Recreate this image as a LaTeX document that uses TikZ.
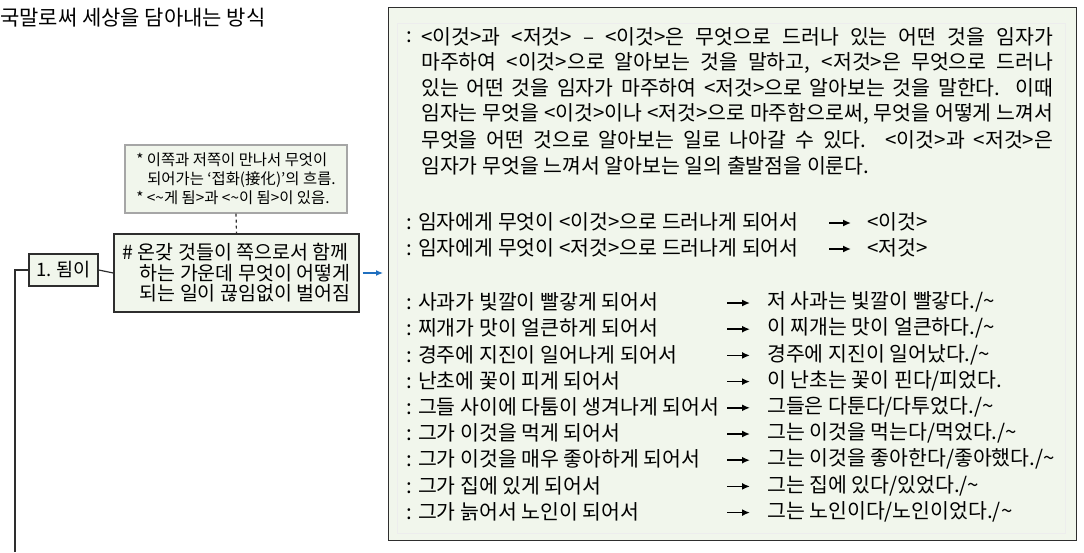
\documentclass[tikz,border=0pt]{standalone}
\usepackage{fontspec}
\setmainfont{Noto Sans CJK KR}
\usetikzlibrary{arrows.meta}
\definecolor{boxfill}{HTML}{F1F6EC}
\definecolor{boxline}{HTML}{2E2E2E}
\definecolor{noteline}{HTML}{A6A6A6}
\definecolor{arrowblue}{HTML}{1F6FBF}
\newcommand{\bodyfont}{\fontsize{20.5}{25.8}\selectfont}

\begin{document}
\begin{tikzpicture}[x=1pt, y=-1pt,
    box/.style={draw=boxline, fill=boxfill, line width=1.4pt, inner sep=0pt},
    notebox/.style={draw=noteline, fill=boxfill, line width=1.2pt, inner sep=0pt},
    link/.style={draw=boxline, line width=1.2pt},
    row/.style={anchor=west, inner sep=0pt, font=\bodyfont},
    rowarrow/.style={line width=1.6pt, -{Latex[length=8pt,width=7pt]}}]
    \useasboundingbox (0,0) rectangle (1084,552);
    % title, cut off at the left edge
    \node[anchor=west, inner sep=0pt, font=\fontsize{21}{24}\selectfont] (title) at (0,18) {국말로써 세상을 담아내는 방식};
    % the big text box
    \node[box, anchor=north west, minimum width=688pt, minimum height=533pt] (desc) at (388,7) {};
    \draw[black!7, line width=0.6pt] (397,23) rectangle (1065,533);
    \node[row] (c1) at (406,37) {:};
    \node[row] (p1) at (421,37) {\makebox[632pt][s]{<이것>과 <저것> – <이것>은 무엇으로 드러나 있는 어떤 것을 임자가}};
    \node[row] (p2) at (421,63) {\makebox[632pt][s]{마주하여 <이것>으로 알아보는 것을 말하고, <저것>은 무엇으로 드러나}};
    \node[row] (p3) at (421,88) {\makebox[632pt][s]{있는 어떤 것을 임자가 마주하여 <저것>으로 알아보는 것을 말한다. 이때}};
    \node[row] (p4) at (421,114) {\makebox[632pt][s]{임자는 무엇을 <이것>이나 <저것>으로 마주함으로써, 무엇을 어떻게 느껴서}};
    \node[row] (p5) at (421,140) {\makebox[632pt][s]{무엇을 어떤 것으로 알아보는 일로 나아갈 수 있다. <이것>과 <저것>은}};
    \node[row] (p6) at (421,166) {임자가 무엇을 느껴서 알아보는 일의 출발점을 이룬다.};
    % this / that
    \foreach \l/\r [count=\i] in {{임자에게 무엇이 <이것>으로 드러나게 되어서}/{<이것>},
                                 {임자에게 무엇이 <저것>으로 드러나게 되어서}/{<저것>}} {
        \node[row] (s\i) at (406,196+26*\i) {: \l};
        \coordinate (sa\i) at (829,197+26*\i);
        \draw[rowarrow] (sa\i) -- ++(22,0);
        \node[row] (sr\i) at (867,196+26*\i) {\r};
    }
    % examples
    \foreach \l/\r [count=\i] in {{사과가 빛깔이 빨갛게 되어서}/{저 사과는 빛깔이 빨갛다./\textasciitilde},
                                 {찌개가 맛이 얼큰하게 되어서}/{이 찌개는 맛이 얼큰하다./\textasciitilde},
                                 {경주에 지진이 일어나게 되어서}/{경주에 지진이 일어났다./\textasciitilde},
                                 {난초에 꽃이 피게 되어서}/{이 난초는 꽃이 핀다/피었다.},
                                 {그들 사이에 다툼이 생겨나게 되어서}/{그들은 다툰다/다투었다./\textasciitilde},
                                 {그가 이것을 먹게 되어서}/{그는 이것을 먹는다/먹었다./\textasciitilde},
                                 {그가 이것을 매우 좋아하게 되어서}/{그는 이것을 좋아한다/좋아했다./\textasciitilde},
                                 {그가 집에 있게 되어서}/{그는 집에 있다/있었다./\textasciitilde},
                                 {그가 늙어서 노인이 되어서}/{그는 노인이다/노인이었다./\textasciitilde}} {
        \node[row] (e\i) at (406,275.8+26.2*\i) {: \l};
        \coordinate (ea\i) at (727,276.8+26.2*\i);
        \draw[rowarrow] (ea\i) -- ++(23,0);
        \node[row] (er\i) at (767,275.8+26.2*\i) {\r};
    }
    % left side
    \node[notebox, minimum width=222pt, minimum height=68pt, align=left, font=\fontsize{15.4}{19}\selectfont] (note) at (236,179) {* 이쪽과 저쪽이 만나서 무엇이\\\hspace*{11pt}되어가는 ‘접화(接化)’의 흐름.\\{*} <\textasciitilde{}게 됨>과 <\textasciitilde{}이 됨>이 있음.};
    \node[box, minimum width=245pt, minimum height=78pt, align=left, font=\fontsize{19.5}{20.5}\selectfont] (hash) at (236.5,273) {\# 온갖 것들이 쪽으로서 함께\\\hspace*{17pt}하는 가운데 무엇이 어떻게\\\hspace*{17pt}되는 일이 끊임없이 벌어짐};
    \node[box, minimum width=69pt, minimum height=32pt, font=\fontsize{18.5}{20}\selectfont] (doemi) at (63.5,270) {1. 됨이};
    \coordinate (trunk) at (15,552);
    \draw[link] (trunk) |- (doemi.west);
    \draw[link] (doemi.east) -- (hash.west);
    \draw[link, dashed] (note.south) -- (hash.north);
    \draw[arrowblue, line width=1.2pt, -{Latex[length=7pt,width=6pt]}, shorten <=3pt, shorten >=5pt] (hash.east) -- (hash.east -| desc.west);
\end{tikzpicture}
\end{document}
